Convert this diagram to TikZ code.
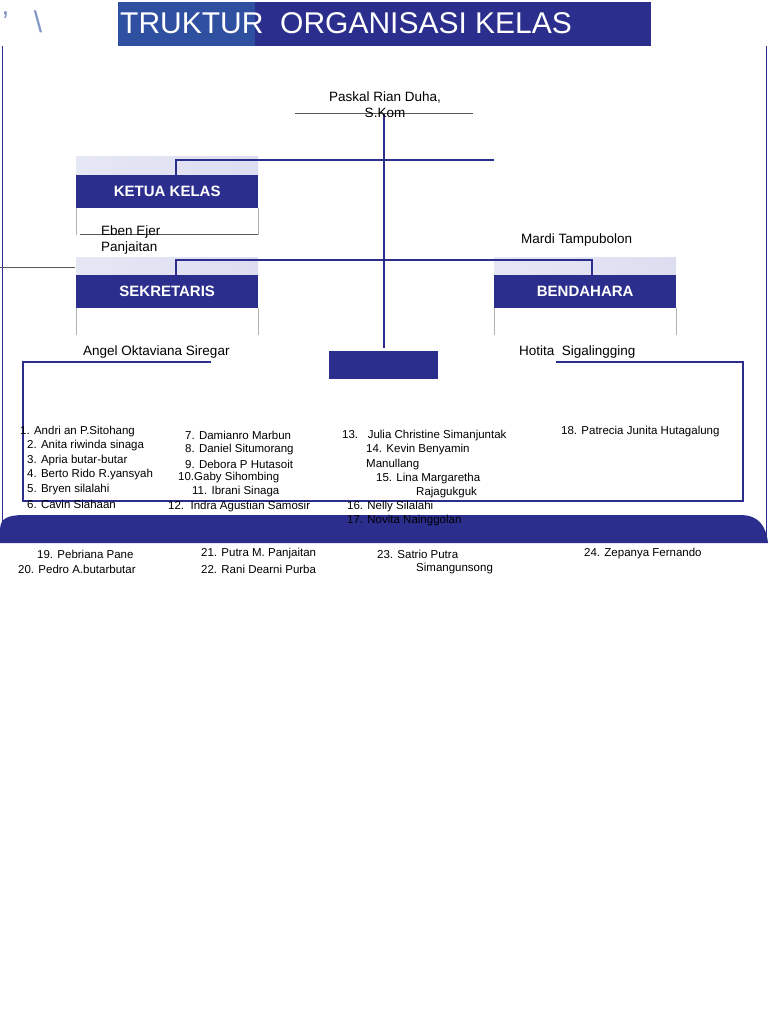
\documentclass[tikz,border=0pt]{standalone}
\usepackage{fontspec}
\setmainfont{Liberation Sans}
\begin{document}
\begin{tikzpicture}[x=1pt,y=-1pt,
  txt/.style={anchor=west,inner sep=0,font=\fontsize{13.5}{15}\selectfont},
  lst/.style={anchor=west,inner sep=0,font=\fontsize{11.5}{12}\selectfont},
  trunk/.style={draw=dblue,line width=2.6pt},
  band/.style={fill=dblue,draw=none,minimum width=182pt,minimum height=33pt,text=white,font=\bfseries\fontsize{15}{16}\selectfont,inner sep=0},
]
\definecolor{dblue}{HTML}{2B2E8C}
\definecolor{lblue}{HTML}{2F4FA0}
\definecolor{lav}{HTML}{DCDDF0}
\useasboundingbox (0,0) rectangle (768,1024);
\fill[white] (0,0) rectangle (768,1024);
% title
\fill[dblue] (118,2) rectangle (651,46);
\fill[lblue] (118,2) rectangle (255,46);
\node[anchor=west,text=white,inner sep=0,font=\fontsize{30}{32}\selectfont] (title) at (120,23) {TRUKTUR\ \ ORGANISASI KELAS};
\node[anchor=west,text=lblue!60,inner sep=0,font=\fontsize{30}{32}\selectfont] (tl) at (2,22) {'\ \ \ \textbackslash};
% page borders
\draw[dblue,line width=0.7pt] (2,46) -- (2,540);
\draw[dblue,line width=0.7pt] (766,46) -- (766,540);
% bottom band
\fill[dblue] (0,543) -- (0,530) .. controls (0,518) and (8,515) .. (25,515) -- (740,515) .. controls (758,515) and (766,525) .. (768,543) -- cycle;
% boxes
\foreach \n/\x/\y/\t in {ketua/76/157/KETUA KELAS, sek/76/257/SEKRETARIS, ben/494/257/BENDAHARA}{
  \shade[left color=lav!70,right color=lav] (\x,\y) rectangle ++(182,18);
  \draw[gray!60,line width=1pt] (\x,\y+51) -- ++(0,27) (\x+182,\y+51) -- ++(0,27);
  \node[band,anchor=north west] (\n) at (\x,\y+18) {\t};
}
% trunk lines
\draw[trunk] (384,113) -- (384,348);
\draw[trunk] (176,175) -- (176,160) -- (494,160);
\draw[trunk] (176,276) -- (176,260) -- (592,260) -- (592,276);
% thin lines
\draw[gray!70!black,line width=0.6pt] (295,113) -- (473,113);
\draw[gray!70!black,line width=0.6pt] (80,234) -- (258,234);
\draw[gray!70!black,line width=0.6pt] (0,267) -- (75,267);
% labels
\node[white,font=\fontsize{16}{17}\selectfont] (wali) at (348,72) {WALI};
\node[white,font=\fontsize{15}{16}\selectfont] (wk) at (556,208) {WAKIL KETUA};
\node[align=center,inner sep=0,font=\fontsize{13.5}{16}\selectfont] (pas) at (385,105) {Paskal Rian Duha,\\ S.Kom};
\node[align=left,inner sep=0,anchor=north west,font=\fontsize{13.5}{16}\selectfont] (eben) at (101,226) {Eben Ejer\\Panjaitan};
\node[txt] (mardi) at (521,240) {Mardi Tampubolon};
\node[txt] (angel) at (83,352) {Angel Oktaviana Siregar};
\node[txt] (hot) at (519,352) {Hotita\ \ Sigalingging};
% anggota
\fill[dblue] (329,351) rectangle (438,379);
\node[white,font=\fontsize{17}{18}\selectfont] (ang) at (383,397) {ANGGOTA};
\draw[dblue,line width=1.8pt] (211,362) -- (23,362) -- (23,501) -- (743,501) -- (743,362) -- (556,362);
% members
\node[lst] at (20,432) {1. Andri an P.Sitohang};
\node[lst] at (27,446) {2. Anita riwinda sinaga};
\node[lst] at (27,461) {3. Apria butar-butar};
\node[lst] at (27,475) {4. Berto Rido R.yansyah};
\node[lst] at (27,490) {5. Bryen silalahi};
\node[lst] at (27,504) {6. Cavin Siahaan};
\node[lst] at (185,435) {7. Damianro Marbun};
\node[lst] at (185,450) {8. Daniel Situmorang};
\node[lst] at (185,464) {9. Debora P Hutasoit};
\node[lst] at (178,478) {10.Gaby Sihombing};
\node[lst] at (192,492) {11. Ibrani Sinaga};
\node[lst] at (168,507) {12.\ \ Indra Agustian Samosir};
\node[lst] at (342,436) {13.\ \ \ Julia Christine Simanjuntak};
\node[lst] at (366,450) {14. Kevin Benyamin};
\node[lst] at (366,465) {Manullang};
\node[lst] at (376,479) {15. Lina Margaretha};
\node[lst] at (416,493) {Rajagukguk};
\node[lst] at (347,507) {16. Nelly Silalahi};
\node[lst] at (347,521) {17. Novita Nainggolan};
\node[lst] at (561,432) {18. Patrecia Junita Hutagalung};
\node[lst] at (37,554) {19. Pebriana Pane};
\node[lst] at (18,569) {20. Pedro A.butarbutar};
\node[lst] at (201,554) {21. Putra M. Panjaitan};
\node[lst] at (201,569) {22. Rani Dearni Purba};
\node[lst] at (377,554) {23. Satrio Putra};
\node[lst] at (416,569) {Simangunsong};
\node[lst] at (584,554) {24. Zepanya Fernando};
\end{tikzpicture}
\end{document}
